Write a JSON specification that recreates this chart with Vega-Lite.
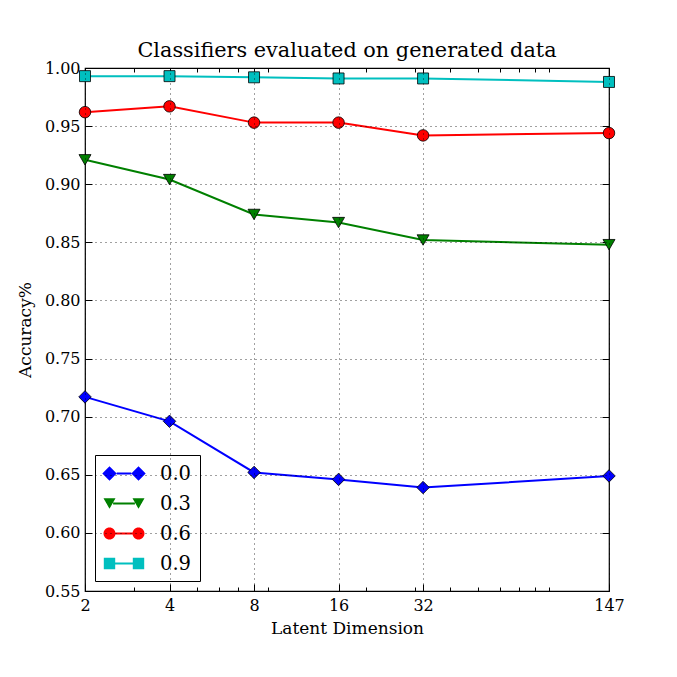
{
  "$schema": "https://vega.github.io/schema/vega-lite/v6.json",
  "width": 524,
  "height": 523,
  "autosize": {"type": "none"},
  "padding": {"left": 85, "top": 68, "right": 68, "bottom": 86},
  "background": "white",
  "title": {
    "text": "Classifiers evaluated on generated data",
    "font": "DejaVu Serif",
    "fontSize": 20.8,
    "fontWeight": "normal",
    "color": "black",
    "anchor": "middle",
    "baseline": "alphabetic",
    "offset": -18
  },
  "data": {
    "values": [
      {"dim": 2, "acc": 0.717, "p": "0.0"},
      {"dim": 4, "acc": 0.696, "p": "0.0"},
      {"dim": 8, "acc": 0.652, "p": "0.0"},
      {"dim": 16, "acc": 0.646, "p": "0.0"},
      {"dim": 32, "acc": 0.639, "p": "0.0"},
      {"dim": 147, "acc": 0.649, "p": "0.0"},
      {"dim": 2, "acc": 0.921, "p": "0.3"},
      {"dim": 4, "acc": 0.904, "p": "0.3"},
      {"dim": 8, "acc": 0.874, "p": "0.3"},
      {"dim": 16, "acc": 0.867, "p": "0.3"},
      {"dim": 32, "acc": 0.852, "p": "0.3"},
      {"dim": 147, "acc": 0.848, "p": "0.3"},
      {"dim": 2, "acc": 0.962, "p": "0.6"},
      {"dim": 4, "acc": 0.967, "p": "0.6"},
      {"dim": 8, "acc": 0.953, "p": "0.6"},
      {"dim": 16, "acc": 0.953, "p": "0.6"},
      {"dim": 32, "acc": 0.942, "p": "0.6"},
      {"dim": 147, "acc": 0.944, "p": "0.6"},
      {"dim": 2, "acc": 0.993, "p": "0.9"},
      {"dim": 4, "acc": 0.993, "p": "0.9"},
      {"dim": 8, "acc": 0.992, "p": "0.9"},
      {"dim": 16, "acc": 0.991, "p": "0.9"},
      {"dim": 32, "acc": 0.991, "p": "0.9"},
      {"dim": 147, "acc": 0.988, "p": "0.9"}
    ]
  },
  "resolve": {
    "axis": {"x": "independent", "y": "independent"},
    "scale": {"shape": "independent", "fill": "independent"}
  },
  "layer": [
    {
      "mark": {"type": "line", "strokeWidth": 2},
      "encoding": {
        "x": {
          "field": "dim",
          "type": "quantitative",
          "scale": {"type": "log", "domain": [2, 147], "nice": false},
          "axis": {
            "orient": "bottom",
            "values": [2, 4, 8, 16, 32, 147],
            "format": "d",
            "title": "Latent Dimension",
            "ticks": false,
            "domain": false,
            "grid": true,
            "gridColor": "black",
            "gridDash": [1, 4],
            "gridWidth": 1,
            "gridOpacity": 0.75,
            "labelFlush": false,
            "labelOverlap": false,
            "labelPadding": 6,
            "labelFont": "DejaVu Serif",
            "labelFontSize": 16,
            "labelColor": "black",
            "titleFont": "DejaVu Serif",
            "titleFontSize": 17,
            "titleFontWeight": "normal",
            "titleColor": "black",
            "titlePadding": 7,
            "zindex": 1
          }
        },
        "y": {
          "field": "acc",
          "type": "quantitative",
          "scale": {"domain": [0.55, 1.0], "nice": false, "zero": false},
          "axis": {
            "orient": "left",
            "values": [0.55, 0.6, 0.65, 0.7, 0.75, 0.8, 0.85, 0.9, 0.95, 1.0],
            "format": ".2f",
            "title": "Accuracy%",
            "ticks": false,
            "domain": false,
            "grid": true,
            "gridColor": "black",
            "gridDash": [1, 4],
            "gridWidth": 1,
            "gridOpacity": 0.75,
            "labelFlush": false,
            "labelOverlap": false,
            "labelPadding": 5,
            "labelFont": "DejaVu Serif",
            "labelFontSize": 16,
            "labelColor": "black",
            "titleFont": "DejaVu Serif",
            "titleFontSize": 17,
            "titleFontWeight": "normal",
            "titleColor": "black",
            "titlePadding": 10,
            "zindex": 1
          }
        },
        "stroke": {
          "field": "p",
          "type": "nominal",
          "scale": {"range": ["#0000ff", "#008000", "#ff0000", "#00bfbf"]},
          "legend": null
        }
      }
    },
    {
      "mark": {"type": "point", "filled": true, "opacity": 1, "stroke": "black", "strokeWidth": 0.8},
      "encoding": {
        "x": {
          "field": "dim",
          "type": "quantitative",
          "axis": {
            "orient": "top",
            "values": [2, 4, 8, 16, 32, 147],
            "labels": false,
            "title": null,
            "grid": false,
            "domain": false,
            "tickSize": -7,
            "tickColor": "black",
            "tickWidth": 1
          }
        },
        "y": {
          "field": "acc",
          "type": "quantitative",
          "axis": {
            "orient": "right",
            "values": [0.55, 0.6, 0.65, 0.7, 0.75, 0.8, 0.85, 0.9, 0.95, 1.0],
            "labels": false,
            "title": null,
            "grid": false,
            "domain": false,
            "tickSize": -7,
            "tickColor": "black",
            "tickWidth": 1
          }
        },
        "color": {
          "field": "p",
          "type": "nominal",
          "scale": {"range": ["#0000ff", "#008000", "#ff0000", "#00bfbf"]},
          "legend": null
        },
        "shape": {
          "field": "p",
          "type": "nominal",
          "scale": {"range": ["diamond", "triangle-down", "circle", "square"]},
          "legend": null
        },
        "size": {
          "field": "p",
          "type": "ordinal",
          "scale": {"range": [156, 121, 121, 110]},
          "legend": null
        }
      }
    },
    {
      "mark": {"type": "point", "filled": true, "opacity": 0},
      "encoding": {
        "x": {
          "field": "dim",
          "type": "quantitative",
          "axis": {
            "orient": "bottom",
            "values": [2, 4, 8, 16, 32, 147],
            "labels": false,
            "title": null,
            "grid": false,
            "domain": false,
            "tickSize": -7,
            "tickColor": "black",
            "tickWidth": 1
          }
        },
        "y": {
          "field": "acc",
          "type": "quantitative",
          "axis": {
            "orient": "left",
            "values": [0.55, 0.6, 0.65, 0.7, 0.75, 0.8, 0.85, 0.9, 0.95, 1.0],
            "labels": false,
            "title": null,
            "grid": false,
            "domain": false,
            "tickSize": -7,
            "tickColor": "black",
            "tickWidth": 1
          }
        },
        "fill": {
          "field": "p",
          "type": "nominal",
          "scale": {
            "domain": ["0.0", "0.3", "0.6", "0.9"],
            "range": ["#0000ff", "#008000", "#ff0000", "#00bfbf"]
          },
          "legend": {
            "title": null,
            "orient": "bottom-left",
            "offset": 10,
            "padding": 8,
            "strokeColor": "black",
            "fillColor": "white",
            "cornerRadius": 0,
            "symbolSize": 400,
            "symbolOpacity": 1,
            "symbolStrokeColor": "black",
            "symbolStrokeWidth": 0.6,
            "rowPadding": 10,
            "labelOffset": 36,
            "labelFont": "DejaVu Serif",
            "labelFontSize": 19.5,
            "labelColor": "black"
          }
        },
        "shape": {
          "field": "p",
          "type": "nominal",
          "scale": {
            "domain": ["0.0", "0.3", "0.6", "0.9"],
            "range": [
              "M-1.12,0L-0.4,-0.72L0.32,0L-0.4,0.72ZM0.32,-0.1L1.78,-0.1L1.78,0.1L0.32,0.1ZM1.78,0L2.5,-0.72L3.22,0L2.5,0.72Z",
              "M-1,-0.52L0.2,-0.52L-0.4,0.52ZM-0.04,-0.1L2.14,-0.1L2.14,0.1L-0.04,0.1ZM1.9,-0.52L3.1,-0.52L2.5,0.52Z",
              "M-1,0A0.6,0.6,0,1,0,0.2,0A0.6,0.6,0,1,0,-1,0ZM0.2,-0.1L1.9,-0.1L1.9,0.1L0.2,0.1ZM1.9,0A0.6,0.6,0,1,0,3.1,0A0.6,0.6,0,1,0,1.9,0Z",
              "M-0.97,-0.57L0.17,-0.57L0.17,0.57L-0.97,0.57ZM0.17,-0.1L1.93,-0.1L1.93,0.1L0.17,0.1ZM1.93,-0.57L3.07,-0.57L3.07,0.57L1.93,0.57Z"
            ]
          },
          "legend": {
            "title": null,
            "orient": "bottom-left",
            "offset": 10,
            "padding": 8,
            "strokeColor": "black",
            "fillColor": "white",
            "cornerRadius": 0,
            "symbolSize": 400,
            "symbolOpacity": 1,
            "symbolStrokeColor": "black",
            "symbolStrokeWidth": 0.6,
            "rowPadding": 10,
            "labelOffset": 36,
            "labelFont": "DejaVu Serif",
            "labelFontSize": 19.5,
            "labelColor": "black"
          }
        }
      }
    },
    {
      "mark": {"type": "point", "opacity": 0},
      "encoding": {
        "x": {
          "field": "dim",
          "type": "quantitative",
          "axis": {
            "orient": "bottom",
            "values": [3, 5, 6, 7, 9, 20, 30, 40, 50, 60, 70, 80, 90],
            "labels": false,
            "title": null,
            "grid": false,
            "domain": false,
            "tickSize": -4,
            "tickColor": "black",
            "tickWidth": 1
          }
        }
      }
    },
    {
      "mark": {"type": "point", "opacity": 0},
      "encoding": {
        "x": {
          "field": "dim",
          "type": "quantitative",
          "axis": {
            "orient": "top",
            "values": [3, 5, 6, 7, 9, 20, 30, 40, 50, 60, 70, 80, 90],
            "labels": false,
            "title": null,
            "grid": false,
            "domain": false,
            "tickSize": -4,
            "tickColor": "black",
            "tickWidth": 1
          }
        }
      }
    }
  ],
  "config": {
    "view": {"stroke": "black", "strokeWidth": 1.2},
    "legend": {"strokeWidth": 1}
  }
}
